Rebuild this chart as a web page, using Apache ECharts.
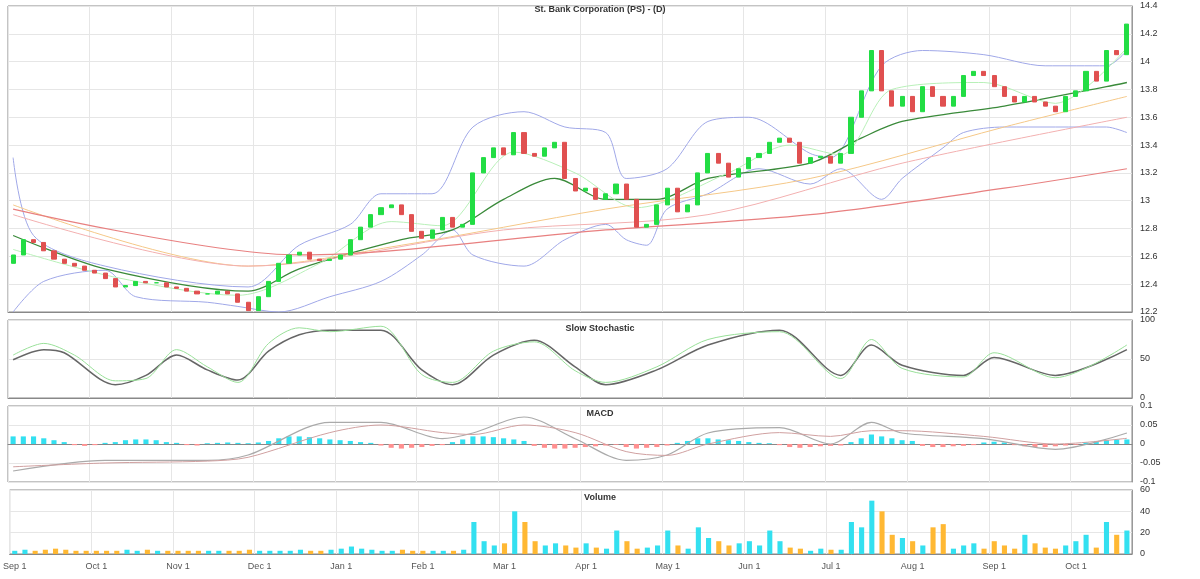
<!DOCTYPE html>
<html><head><meta charset="utf-8">
<script src="https://cdn.jsdelivr.net/npm/echarts@6/dist/echarts.min.js"></script>
<style>html,body{margin:0;background:#fff}#c{width:1200px;height:579px}</style></head>
<body><div id="c"></div>
<script>
const closes=[12.61,12.72,12.70,12.64,12.58,12.55,12.53,12.50,12.48,12.44,12.38,12.39,12.42,12.41,12.41,12.38,12.37,12.35,12.33,12.33,12.35,12.33,12.27,12.21,12.31,12.42,12.55,12.61,12.63,12.58,12.57,12.58,12.61,12.72,12.81,12.90,12.95,12.97,12.90,12.78,12.73,12.79,12.88,12.81,12.83,13.20,13.31,13.38,13.33,13.49,13.34,13.32,13.38,13.42,13.16,13.07,13.09,13.01,13.05,13.12,13.01,12.81,12.83,12.97,13.09,12.92,12.97,13.20,13.34,13.27,13.17,13.23,13.31,13.34,13.42,13.45,13.42,13.27,13.31,13.32,13.27,13.34,13.60,13.79,14.08,13.79,13.68,13.75,13.64,13.82,13.75,13.68,13.75,13.90,13.93,13.90,13.82,13.75,13.71,13.75,13.71,13.68,13.64,13.75,13.79,13.93,13.86,14.08,14.05,14.27];
const opens=[12.55,12.61,12.72,12.70,12.64,12.58,12.55,12.53,12.50,12.48,12.44,12.38,12.39,12.42,12.41,12.41,12.38,12.37,12.35,12.33,12.33,12.35,12.33,12.27,12.21,12.31,12.42,12.55,12.61,12.63,12.58,12.57,12.58,12.61,12.72,12.81,12.90,12.95,12.97,12.90,12.78,12.73,12.79,12.88,12.81,12.83,13.20,13.31,13.38,13.33,13.49,13.34,13.32,13.38,13.42,13.16,13.07,13.09,13.01,13.05,13.12,13.01,12.81,12.83,12.97,13.09,12.92,12.97,13.20,13.34,13.27,13.17,13.23,13.31,13.34,13.42,13.45,13.42,13.27,13.31,13.32,13.27,13.34,13.60,13.79,14.08,13.79,13.68,13.75,13.64,13.82,13.75,13.68,13.75,13.90,13.93,13.90,13.82,13.75,13.71,13.75,13.71,13.68,13.64,13.75,13.79,13.93,13.86,14.08,14.05];
const bbUpper=[[0,13.31],[2,12.75],[9,12.53],[23,12.38],[28,12.68],[33,12.83],[36,13.05],[41,13.05],[45,13.53],[50,13.64],[54,13.53],[58,13.49],[60,13.16],[64,13.23],[68,13.57],[72,13.60],[78,13.34],[80,13.31],[85,13.97],[89,14.08],[95,14.05],[101,13.97],[107,13.97],[109,14.08]];
const bbLower=[[0,12.20],[3,12.42],[9,12.50],[12,12.31],[19,12.27],[22,12.24],[26,12.20],[31,12.31],[36,12.42],[40,12.61],[43,12.79],[45,12.61],[50,12.53],[54,12.72],[58,12.83],[60,12.72],[62,12.68],[64,12.94],[68,13.05],[73,13.23],[78,13.12],[81,13.23],[85,13.01],[87,13.16],[91,13.38],[93,13.49],[97,13.53],[107,13.53],[109,13.49]];
const ma20=[[0,12.75],[9,12.51],[23,12.35],[28,12.51],[38,12.72],[43,12.79],[48,13.01],[53,13.16],[58,13.01],[63,13.01],[68,13.16],[78,13.27],[83,13.45],[87,13.57],[97,13.68],[107,13.82],[109,13.85]];
const maShort=[[0,12.65],[10,12.45],[22,12.32],[30,12.55],[37,12.85],[42,12.82],[49,13.35],[55,13.2],[61,12.95],[70,13.2],[76,13.4],[81,13.33],[86,13.8],[95,13.85],[102,13.7],[109,14.1]];
const maOrange=[[0,12.97],[23,12.53],[38,12.68],[58,12.94],[78,13.16],[97,13.53],[109,13.75]];
const maPink=[[0,12.90],[23,12.53],[48,12.79],[68,12.90],[87,13.27],[109,13.60]];
const maLong=[[0,12.94],[28,12.61],[58,12.79],[78,12.90],[97,13.09],[109,13.23]];
const stochK=[[0,49],[3,62],[5,58],[10,17],[13,29],[16,55],[19,36],[22,23],[25,60],[28,81],[31,87],[36,87],[40,36],[43,17],[47,55],[51,74],[55,40],[58,17],[63,36],[68,68],[75,87],[81,29],[84,68],[87,42],[93,29],[96,52],[102,29],[109,62]];
const stochD=[[0,55],[3,70],[6,55],[10,22],[13,25],[16,62],[19,40],[22,20],[25,70],[28,90],[31,85],[36,92],[40,30],[43,20],[47,60],[51,72],[55,35],[58,20],[63,40],[68,75],[75,85],[81,25],[84,75],[87,38],[93,27],[96,58],[102,26],[109,68]];
const macdLine=[[0,-0.071],[9,-0.043],[19,-0.043],[23,-0.029],[31,0.057],[36,0.057],[42,0.014],[45,0.029],[50,0.071],[55,0.014],[60,-0.043],[64,-0.029],[68,0.029],[75,0.043],[80,0],[84,0.057],[87,0.029],[95,0.014],[102,-0.014],[109,0.029]];
const macdSignal=[[0,-0.06],[9,-0.05],[19,-0.045],[23,-0.035],[31,0.03],[36,0.05],[42,0.03],[45,0.025],[50,0.05],[55,0.03],[60,-0.02],[64,-0.03],[68,0.0],[75,0.03],[80,0.02],[84,0.035],[87,0.035],[95,0.02],[102,0.0],[109,0.015]];
const macdHist=[0.02,0.02,0.02,0.015,0.01,0.005,-0.003,-0.005,-0.003,0.003,0.005,0.01,0.012,0.012,0.01,0.005,0.003,-0.003,-0.004,0.002,0.003,0.004,0.003,0.002,0.004,0.008,0.015,0.02,0.02,0.018,0.015,0.012,0.01,0.008,0.005,0.003,-0.004,-0.01,-0.012,-0.01,-0.008,-0.005,-0.003,0.005,0.012,0.02,0.02,0.018,0.015,0.012,0.008,-0.005,-0.01,-0.012,-0.012,-0.01,-0.008,-0.006,-0.004,-0.002,-0.008,-0.012,-0.01,-0.008,-0.004,0.003,0.008,0.015,0.015,0.012,0.01,0.008,0.005,0.003,0.002,-0.003,-0.008,-0.01,-0.008,-0.006,-0.005,-0.004,0.005,0.015,0.025,0.02,0.015,0.01,0.008,-0.005,-0.008,-0.008,-0.006,-0.005,-0.003,0.004,0.006,0.004,-0.003,-0.006,-0.008,-0.008,-0.006,-0.004,-0.002,0.004,0.008,0.01,0.012,0.012];
const volumes=[3,4,3,4,5,4,3,3,3,3,3,4,3,4,3,3,3,3,3,3,3,3,3,4,3,3,3,3,4,3,3,4,5,7,5,4,3,3,4,3,3,3,3,3,4,30,12,8,10,40,30,12,8,10,8,6,10,6,5,22,12,5,6,8,22,8,5,25,15,12,8,10,12,8,22,12,6,5,3,5,4,4,30,25,50,40,18,15,12,8,25,28,5,8,10,5,12,8,5,18,10,6,5,8,12,18,6,30,18,22];
const months=['Sep','Oct','Nov','Dec','Jan','Feb','Mar','Apr','May','Jun','Jul','Aug','Sep','Oct'];

const dates=closes.map((_,i)=>months[Math.floor(i/8)%months.length]+' '+(1+(i%8)*3));
const ohlc=closes.map((c,i)=>[opens[i],c,Math.min(opens[i],c),Math.max(opens[i],c)]);
const volData=volumes.map((v,i)=>({value:v,itemStyle:{color:closes[i]>=opens[i]?'#33e0f0':'#ffb833'}}));
const histData=macdHist.map(v=>({value:v,itemStyle:{color:v>=0?'#33e0f0':'#ff9090'}}));
const grids=[{left:8,right:68,top:6,height:306},{left:8,right:68,top:320,height:78},{left:8,right:68,top:406,height:76},{left:8,right:68,top:490,height:64}].map(g=>Object.assign(g,{show:true,borderColor:'#888',borderWidth:1}));
const gl={show:true,lineStyle:{color:'#e6e6e6'}};
const xAxes=grids.map((g,k)=>({type:'category',gridIndex:k,data:dates,boundaryGap:true,axisTick:{show:false},axisLine:{lineStyle:{color:'#888'}},splitLine:{show:true,interval:7,lineStyle:{color:'#e6e6e6'}},axisLabel:{show:k===3,interval:7,fontSize:9,color:'#555'}}));
const yl={position:'right',axisLine:{show:true,lineStyle:{color:'#999'}},axisLabel:{fontSize:9,color:'#333'},splitLine:gl};
const yAxes=[
 Object.assign({type:'value',gridIndex:0,min:12.2,max:14.4,interval:0.2},yl),
 Object.assign({type:'value',gridIndex:1,min:0,max:100,interval:50},yl),
 Object.assign({type:'value',gridIndex:2,min:-0.1,max:0.1,interval:0.05},yl),
 Object.assign({type:'value',gridIndex:3,min:0,max:60,interval:20},yl)];
const ln=(data,color,w,xi)=>({type:'line',xAxisIndex:xi||0,yAxisIndex:xi||0,data,symbol:'none',smooth:0.3,lineStyle:{color,width:w||1},z:3});
const opt={animation:false,
 title:[{text:'St. Bank Corporation (PS) - (D)',left:'center',top:0,textStyle:{fontSize:9,color:'#333'}},
  {text:'Slow Stochastic',left:'center',top:319,textStyle:{fontSize:9,color:'#333'}},
  {text:'MACD',left:'center',top:404,textStyle:{fontSize:9,color:'#333'}},
  {text:'Volume',left:'center',top:488,textStyle:{fontSize:9,color:'#333'}}],
 grid:grids,xAxis:xAxes,yAxis:yAxes,
 series:[
  {type:'candlestick',data:ohlc,barWidth:'45%',itemStyle:{color:'#22dd44',color0:'#e05050',borderColor:'#22dd44',borderColor0:'#e05050'},z:4},
  ln(bbUpper,'#a0a8e8'),ln(bbLower,'#a0a8e8'),ln(ma20,'#3a8a3a',1.3),ln(maShort,'#b8f0b8'),
  ln(maOrange,'#f5c888'),ln(maPink,'#f3b0b0'),ln(maLong,'#e88080',1.2),
  ln(stochK,'#666',1.5,1),ln(stochD,'#99e099',1,1),
  ln(macdLine,'#aaa',1.2,2),ln(macdSignal,'#d0a0a0',1,2),
  {type:'bar',xAxisIndex:2,yAxisIndex:2,data:histData,barWidth:'50%'},
  {type:'bar',xAxisIndex:3,yAxisIndex:3,data:volData,barWidth:'50%'}
 ]};
echarts.init(document.getElementById('c')).setOption(opt);
</script></body></html>
